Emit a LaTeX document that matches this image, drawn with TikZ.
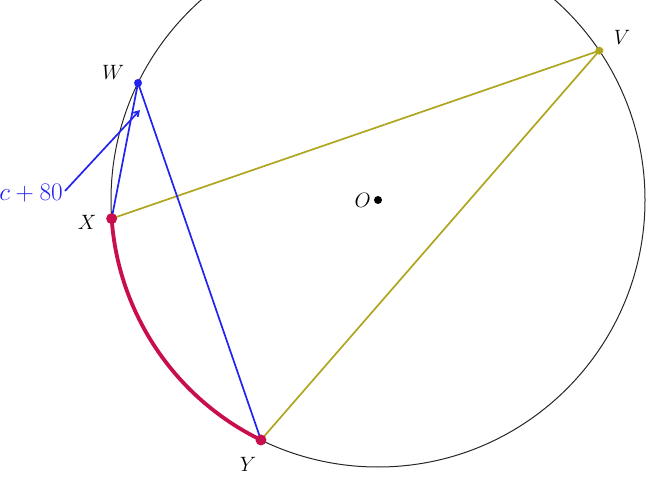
\documentclass[tikz,border=0pt]{standalone}
\usepackage{amsmath}
\usetikzlibrary{arrows.meta,calc}
\definecolor{myblue}{RGB}{35,35,240}
\definecolor{mycrimson}{RGB}{200,15,75}
\definecolor{myolive}{RGB}{175,165,30}
\begin{document}
\begin{tikzpicture}[x=1pt,y=1pt,
  lbl/.style={font=\fontsize{22}{26}\selectfont, inner sep=0pt},
  bluel/.style={myblue, line width=1.7pt},
  olivel/.style={myolive, line width=1.7pt}]
\useasboundingbox (0,0) rectangle (648,485);
\coordinate (O) at (378,285);
\draw[black!85, line width=1pt] (O) circle (267);
\coordinate (W) at ($(O)+(154:267)$);
\coordinate (V) at ($(O)+(34:267)$);
\coordinate (X) at ($(O)+(184:267)$);
\coordinate (Y) at ($(O)+(244:267)$);
\draw[mycrimson, line width=3.8pt] (X) arc[start angle=184, end angle=244, radius=267];
\draw[olivel] (X) -- (V) -- (Y);
\draw[bluel] (X) -- (W) -- (Y);
\fill[myblue] (W) circle (4);
\fill[myolive] (V) circle (4);
\fill[mycrimson] (X) circle (5.5);
\fill[mycrimson] (Y) circle (5.5);
\fill[black] (O) circle (4);
\node[lbl] (lW) at (113,413) {$W$};
\node[lbl] (lV) at (622,448) {$V$};
\node[lbl] (lX) at (87,263) {$X$};
\node[lbl] (lY) at (248,21) {$Y$};
\node[lbl, anchor=east] (lO) at (371,285) {$O$};
\node[lbl, scale=1.22, anchor=east, text=myblue] (lc) at (63,292) {$c+80$};
\coordinate (arrEnd) at (140,375);
\draw[bluel, -{Straight Barb[length=5pt,width=6pt]}] ($(lc.east)+(2,2)$) -- (arrEnd);
\end{tikzpicture}
\end{document}
